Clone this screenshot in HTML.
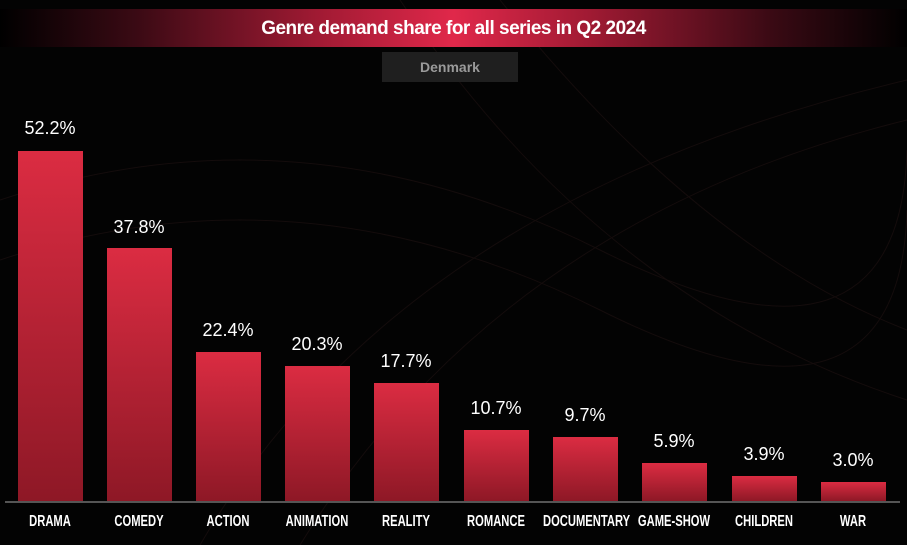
<!DOCTYPE html>
<html><head><style>
body{margin:0;width:907px;height:545px;background:#030303;overflow:hidden;font-family:"Liberation Sans",sans-serif;position:relative}
.banner{position:absolute;left:0;top:9px;width:907px;height:38px;background:linear-gradient(90deg,#000 0%,#3a0a14 15%,#a01a33 35%,#e0284a 50%,#a01a33 65%,#3a0a14 85%,#000 100%)}
.banner span{position:absolute;left:0;right:0;top:9px;text-align:center;color:#fff;font-weight:bold;font-size:19px;letter-spacing:-0.5px}
.den{position:absolute;left:382px;top:52px;width:136px;height:30px;background:#1f1f1f;color:#9a9a9a;font-weight:bold;font-size:14px;text-align:center;line-height:30px}
.bar{position:absolute;width:65px;background:linear-gradient(180deg,#db2c42,#8e1826)}
.val{position:absolute;width:90px;text-align:center;color:#fff;font-size:18px}
.cat{position:absolute;width:120px;text-align:center;color:#fff;font-size:16px;font-weight:bold;top:513px;transform:scaleX(0.7)}
.base{position:absolute;left:5px;width:895px;top:501px;height:2px;background:#555}
</style></head><body>
<svg width="907" height="545" style="position:absolute;left:0;top:0">
<g stroke="#140c0c" fill="none" stroke-width="1">
<path d="M0 200 Q300 100 600 250 T907 150"/><path d="M0 260 Q300 160 600 310 T907 210"/>
<path d="M200 545 Q400 200 907 80"/><path d="M300 545 Q500 220 907 120"/>
<path d="M400 0 Q600 300 907 400"/><path d="M500 0 Q700 250 907 330"/>
</g></svg>
<div class="banner"><span>Genre demand share for all series in Q2 2024</span></div>
<div class="den">Denmark</div>
<div class="bar" style="left:18px;top:151px;height:350px"></div>
<div class="bar" style="left:107px;top:248px;height:253px"></div>
<div class="bar" style="left:196px;top:352px;height:149px"></div>
<div class="bar" style="left:285px;top:366px;height:135px"></div>
<div class="bar" style="left:374px;top:383px;height:118px"></div>
<div class="bar" style="left:464px;top:430px;height:71px"></div>
<div class="bar" style="left:553px;top:437px;height:64px"></div>
<div class="bar" style="left:642px;top:463px;height:38px"></div>
<div class="bar" style="left:732px;top:476px;height:25px"></div>
<div class="bar" style="left:821px;top:482px;height:19px"></div>
<div class="base"></div>
<div class="val" style="left:5px;top:118px">52.2%</div>
<div class="val" style="left:94px;top:217px">37.8%</div>
<div class="val" style="left:183px;top:320px">22.4%</div>
<div class="val" style="left:272px;top:334px">20.3%</div>
<div class="val" style="left:361px;top:351px">17.7%</div>
<div class="val" style="left:451px;top:398px">10.7%</div>
<div class="val" style="left:540px;top:405px">9.7%</div>
<div class="val" style="left:629px;top:431px">5.9%</div>
<div class="val" style="left:719px;top:444px">3.9%</div>
<div class="val" style="left:808px;top:450px">3.0%</div>
<div class="cat" style="left:-10px">DRAMA</div>
<div class="cat" style="left:79px">COMEDY</div>
<div class="cat" style="left:168px">ACTION</div>
<div class="cat" style="left:257px">ANIMATION</div>
<div class="cat" style="left:346px">REALITY</div>
<div class="cat" style="left:436px">ROMANCE</div>
<div class="cat" style="left:525px">DOCUMENTARY</div>
<div class="cat" style="left:614px">GAME-SHOW</div>
<div class="cat" style="left:704px">CHILDREN</div>
<div class="cat" style="left:793px">WAR</div>
</body></html>
